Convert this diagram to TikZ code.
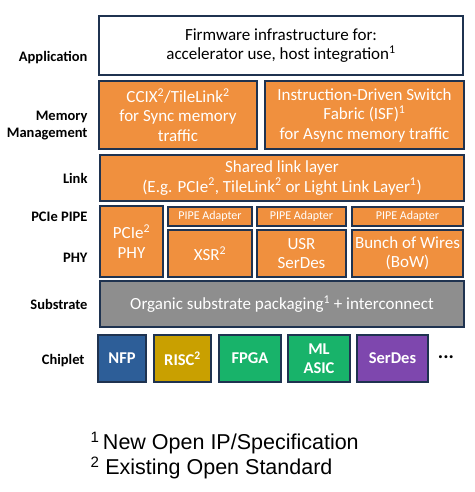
\documentclass[tikz,border=0pt]{standalone}
\usepackage{fontspec}
\setmainfont{Carlito}
\newfontfamily\arialf{Liberation Sans}
\definecolor{orng}{HTML}{F0903E}
\definecolor{edge}{HTML}{1F3350}
\definecolor{subgray}{HTML}{8E8E8E}
\definecolor{nfpblue}{HTML}{2D5E98}
\definecolor{riscgold}{HTML}{C9A000}
\definecolor{chipgreen}{HTML}{18B36A}
\definecolor{serpurple}{HTML}{7E47AE}
\begin{document}
\begin{tikzpicture}[x=1pt,y=-1pt,
  box/.style={draw=edge, line width=2.2pt, inner sep=0pt, align=center, text=white,
    font=\fontsize{17}{19.5}\selectfont},
  obox/.style={box, fill=orng},
  small/.style={box, fill=orng, font=\fontsize{12}{13}\selectfont},
  chip/.style={box, font=\bfseries\fontsize{16.5}{18}\selectfont, minimum height=47pt},
  lab/.style={anchor=east, align=right, font=\bfseries\fontsize{14.5}{17}\selectfont}]
\useasboundingbox (0,0) rectangle (474,492);
% labels
\node[lab] (lapp) at (91,58) {Application};
\node[lab] (lmem) at (91,126) {Memory\\Management};
\node[lab] (llink) at (91,178) {Link};
\node[lab] (lpipe) at (91,217) {PCIe PIPE};
\node[lab] (lphy) at (91,258) {PHY};
\node[lab] (lsub) at (91,304) {Substrate};
\node[lab] (lchip) at (88,361) {Chiplet};
% boxes
\node[box, fill=white, text=black, minimum width=364pt, minimum height=59pt] (app) at (281,45.5)
  {Firmware infrastructure for:\\accelerator use, host integration\textsuperscript{1}};
\node[obox, minimum width=158pt, minimum height=68pt] (meml) at (178,115)
  {CCIX\textsuperscript{2}/TileLink\textsuperscript{2}\\for Sync memory\\traffic};
\node[obox, minimum width=199pt, minimum height=68pt] (memr) at (364.5,115)
  {Instruction-Driven Switch\\Fabric (ISF)\textsuperscript{1}\\for Async memory traffic};
\node[obox, minimum width=364pt, minimum height=46pt] (link) at (282,178)
  {Shared link layer\\(E.g. PCIe\textsuperscript{2}, TileLink\textsuperscript{2} or Light Link Layer\textsuperscript{1})};
\node[obox, minimum width=63pt, minimum height=71pt] (pphy) at (131.5,241.5)
  {PCIe\textsuperscript{2}\\PHY};
\node[small, minimum width=84pt, minimum height=19pt] (pa1) at (210,216.5) {PIPE Adapter};
\node[obox, minimum width=84pt, minimum height=47pt] (xsr) at (210,253.5) {XSR\textsuperscript{2}};
\node[small, minimum width=89pt, minimum height=19pt] (pa2) at (301.5,216.5) {PIPE Adapter};
\node[obox, minimum width=89pt, minimum height=47pt] (usr) at (301.5,253.5) {USR\\SerDes};
\node[small, minimum width=111pt, minimum height=19pt] (pa3) at (407.5,216.5) {PIPE Adapter};
\node[obox, minimum width=111pt, minimum height=47pt] (bow) at (407.5,253.5) {Bunch of Wires\\(BoW)};
\node[box, fill=subgray, minimum width=364pt, minimum height=46pt] (sub) at (282,304)
  {Organic substrate packaging\textsuperscript{1} + interconnect};
% chiplets
\node[chip, fill=nfpblue, minimum width=48pt] (nfp) at (122,358.5) {NFP};
\node[chip, fill=riscgold, minimum width=57pt] (risc) at (182.5,358.5) {RISC\textsuperscript{2}};
\node[chip, fill=chipgreen, minimum width=62pt] (fpga) at (250,358.5) {FPGA};
\node[chip, fill=chipgreen, minimum width=62pt, font=\bfseries\fontsize{16.5}{19}\selectfont] (ml) at (319,358.5) {ML\\ASIC};
\node[chip, fill=serpurple, minimum width=71pt] (serdes) at (392.5,358.5) {SerDes};
\node[font=\bfseries\fontsize{20}{20}\selectfont] (dots) at (446,357) {...};
% footnotes
\node[anchor=west, align=left, font=\arialf\fontsize{21.5}{25}\selectfont] (notes) at (87,455.5)
  {\textsuperscript{1}\,New Open IP/Specification\\\textsuperscript{2} Existing Open Standard};
\end{tikzpicture}
\end{document}
